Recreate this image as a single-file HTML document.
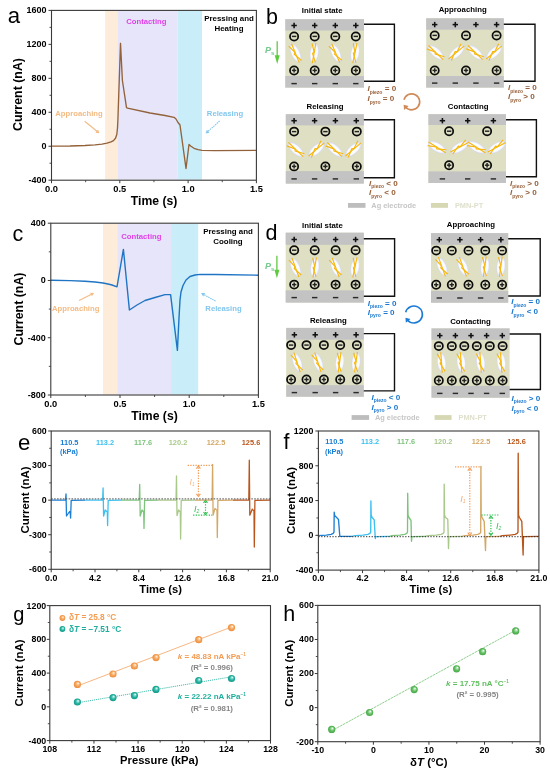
<!DOCTYPE html><html><head><meta charset="utf-8"><style>html,body{margin:0;padding:0;background:#fff;}svg{display:block;will-change:transform;}</style></head><body>
<svg width="550" height="772" viewBox="0 0 550 772" font-family='"Liberation Sans", sans-serif'>
<rect x="0" y="0" width="550" height="772" fill="#ffffff" />
<rect x="105.2" y="11" width="12.2" height="168.6" fill="#fdecd9" />
<rect x="117.4" y="11" width="60" height="168.6" fill="#e7e5f9" />
<rect x="177.4" y="11" width="24.6" height="168.6" fill="#c9edf9" />
<polyline points="51.5,146.2 70,146 85,145.5 95,144.9 102,144.1 107,143.1 111,141.9 113.5,140.6 115.5,138.2 116.8,134.5 117.5,128 117.9,119.8 120.5,43.3 122.4,80.5 126.5,107.7 127.5,108.2 150,113 165,115.5 174,117.3 176,119 178,122.5 180,125 186,168.5 189,144.5 191,146.2 194,148.3 198,149.6 202,150.3 215,150.7 256.4,150.3" fill="none" stroke="#93623a" stroke-width="1.35" stroke-linejoin="round" />
<rect x="51.5" y="10.4" width="204.9" height="169.8" fill="none" stroke="#3a3a3a" stroke-width="1.1"/>
<line x1="48.5" y1="10.4" x2="51.5" y2="10.4" stroke="#3a3a3a" stroke-width="1" />
<text x="46.5" y="13.3" font-size="9" fill="#000" text-anchor="end" font-weight="bold" >1600</text>
<line x1="48.5" y1="44.36" x2="51.5" y2="44.36" stroke="#3a3a3a" stroke-width="1" />
<text x="46.5" y="47.26" font-size="9" fill="#000" text-anchor="end" font-weight="bold" >1200</text>
<line x1="48.5" y1="78.32" x2="51.5" y2="78.32" stroke="#3a3a3a" stroke-width="1" />
<text x="46.5" y="81.22" font-size="9" fill="#000" text-anchor="end" font-weight="bold" >800</text>
<line x1="48.5" y1="112.28" x2="51.5" y2="112.28" stroke="#3a3a3a" stroke-width="1" />
<text x="46.5" y="115.18" font-size="9" fill="#000" text-anchor="end" font-weight="bold" >400</text>
<line x1="48.5" y1="146.24" x2="51.5" y2="146.24" stroke="#3a3a3a" stroke-width="1" />
<text x="46.5" y="149.14" font-size="9" fill="#000" text-anchor="end" font-weight="bold" >0</text>
<line x1="48.5" y1="180.2" x2="51.5" y2="180.2" stroke="#3a3a3a" stroke-width="1" />
<text x="46.5" y="183.1" font-size="9" fill="#000" text-anchor="end" font-weight="bold" >-400</text>
<line x1="49.5" y1="27.38" x2="51.5" y2="27.38" stroke="#3a3a3a" stroke-width="0.9" />
<line x1="49.5" y1="61.34" x2="51.5" y2="61.34" stroke="#3a3a3a" stroke-width="0.9" />
<line x1="49.5" y1="95.3" x2="51.5" y2="95.3" stroke="#3a3a3a" stroke-width="0.9" />
<line x1="49.5" y1="129.26" x2="51.5" y2="129.26" stroke="#3a3a3a" stroke-width="0.9" />
<line x1="49.5" y1="163.22" x2="51.5" y2="163.22" stroke="#3a3a3a" stroke-width="0.9" />
<line x1="51.5" y1="180.2" x2="51.5" y2="183.2" stroke="#3a3a3a" stroke-width="1" />
<text x="51.5" y="192" font-size="9.3" fill="#000" text-anchor="middle" font-weight="bold" >0.0</text>
<line x1="119.8" y1="180.2" x2="119.8" y2="183.2" stroke="#3a3a3a" stroke-width="1" />
<text x="119.8" y="192" font-size="9.3" fill="#000" text-anchor="middle" font-weight="bold" >0.5</text>
<line x1="188.1" y1="180.2" x2="188.1" y2="183.2" stroke="#3a3a3a" stroke-width="1" />
<text x="188.1" y="192" font-size="9.3" fill="#000" text-anchor="middle" font-weight="bold" >1.0</text>
<line x1="256.4" y1="180.2" x2="256.4" y2="183.2" stroke="#3a3a3a" stroke-width="1" />
<text x="256.4" y="192" font-size="9.3" fill="#000" text-anchor="middle" font-weight="bold" >1.5</text>
<line x1="85.65" y1="180.2" x2="85.65" y2="182.2" stroke="#3a3a3a" stroke-width="0.9" />
<line x1="153.95" y1="180.2" x2="153.95" y2="182.2" stroke="#3a3a3a" stroke-width="0.9" />
<line x1="222.25" y1="180.2" x2="222.25" y2="182.2" stroke="#3a3a3a" stroke-width="0.9" />
<text x="0" y="0" font-size="12.4" font-weight="bold" text-anchor="middle" transform="translate(21.6,94.5) rotate(-90)">Current (nA)</text>
<text x="154.1" y="204.5" font-size="12.2" fill="#000" text-anchor="middle" font-weight="bold" >Time (s)</text>
<text x="7.8" y="22.9" font-size="22.2" fill="#000" text-anchor="start" font-weight="normal" >a</text>
<text x="146.4" y="24" font-size="7.7" fill="#e040e8" text-anchor="middle" font-weight="bold" >Contacting</text>
<text x="229" y="20.7" font-size="7.9" fill="#000" text-anchor="middle" font-weight="bold" >Pressing and</text>
<text x="229" y="30.5" font-size="7.9" fill="#000" text-anchor="middle" font-weight="bold" >Heating</text>
<text x="79" y="116.1" font-size="7.7" fill="#f4bb84" text-anchor="middle" font-weight="bold" >Approaching</text>
<text x="225" y="116" font-size="7.7" fill="#84c7ec" text-anchor="middle" font-weight="bold" >Releasing</text>
<line x1="84.7" y1="121.3" x2="97.54" y2="131.78" stroke="#f4bb84" stroke-width="1.15" />
<polygon points="99.4,133.3 95.45,132.66 97.98,129.56" fill="#f4bb84"/>
<line x1="219.6" y1="121" x2="207.38" y2="131.99" stroke="#84c7ec" stroke-width="1.15" stroke-dasharray="1.5,0.8"/>
<polygon points="205.6,133.6 206.84,129.8 209.51,132.77" fill="#84c7ec"/>
<rect x="103" y="223.8" width="14.2" height="170.6" fill="#fdecd9" />
<rect x="117.2" y="223.8" width="53.8" height="170.6" fill="#e7e5f9" />
<rect x="171" y="223.8" width="27.2" height="170.6" fill="#c9edf9" />
<polyline points="50.8,280.3 70,280.6 85,281.3 95,282 103,283 108,284 112,285 117,286.8 123.4,249.4 129.4,310 137,305 145,300.5 155,297.5 165,294.6 170.6,294.6 177.4,350.4 179,318 180,300 181,292 183,285.5 186,280 190,276.5 195,275 200,274.4 215,274.5 258.4,275.2" fill="none" stroke="#1f74c4" stroke-width="1.4" stroke-linejoin="round" />
<rect x="50.8" y="223.2" width="207.6" height="171.8" fill="none" stroke="#3a3a3a" stroke-width="1.1"/>
<line x1="47.8" y1="223.2" x2="50.8" y2="223.2" stroke="#3a3a3a" stroke-width="1" />
<text x="45.8" y="226.1" font-size="9" fill="#000" text-anchor="end" font-weight="bold" >400</text>
<line x1="47.8" y1="280.47" x2="50.8" y2="280.47" stroke="#3a3a3a" stroke-width="1" />
<text x="45.8" y="283.37" font-size="9" fill="#000" text-anchor="end" font-weight="bold" >0</text>
<line x1="47.8" y1="337.73" x2="50.8" y2="337.73" stroke="#3a3a3a" stroke-width="1" />
<text x="45.8" y="340.63" font-size="9" fill="#000" text-anchor="end" font-weight="bold" >-400</text>
<line x1="47.8" y1="395" x2="50.8" y2="395" stroke="#3a3a3a" stroke-width="1" />
<text x="45.8" y="397.9" font-size="9" fill="#000" text-anchor="end" font-weight="bold" >-800</text>
<line x1="48.8" y1="251.83" x2="50.8" y2="251.83" stroke="#3a3a3a" stroke-width="0.9" />
<line x1="48.8" y1="309.1" x2="50.8" y2="309.1" stroke="#3a3a3a" stroke-width="0.9" />
<line x1="48.8" y1="366.37" x2="50.8" y2="366.37" stroke="#3a3a3a" stroke-width="0.9" />
<line x1="50.8" y1="395" x2="50.8" y2="398" stroke="#3a3a3a" stroke-width="1" />
<text x="50.8" y="406.8" font-size="9.3" fill="#000" text-anchor="middle" font-weight="bold" >0.0</text>
<line x1="120" y1="395" x2="120" y2="398" stroke="#3a3a3a" stroke-width="1" />
<text x="120" y="406.8" font-size="9.3" fill="#000" text-anchor="middle" font-weight="bold" >0.5</text>
<line x1="189.2" y1="395" x2="189.2" y2="398" stroke="#3a3a3a" stroke-width="1" />
<text x="189.2" y="406.8" font-size="9.3" fill="#000" text-anchor="middle" font-weight="bold" >1.0</text>
<line x1="258.4" y1="395" x2="258.4" y2="398" stroke="#3a3a3a" stroke-width="1" />
<text x="258.4" y="406.8" font-size="9.3" fill="#000" text-anchor="middle" font-weight="bold" >1.5</text>
<line x1="85.4" y1="395" x2="85.4" y2="397" stroke="#3a3a3a" stroke-width="0.9" />
<line x1="154.6" y1="395" x2="154.6" y2="397" stroke="#3a3a3a" stroke-width="0.9" />
<line x1="223.8" y1="395" x2="223.8" y2="397" stroke="#3a3a3a" stroke-width="0.9" />
<text x="0" y="0" font-size="12.4" font-weight="bold" text-anchor="middle" transform="translate(23,309) rotate(-90)">Current (nA)</text>
<text x="154.5" y="419.5" font-size="12.2" fill="#000" text-anchor="middle" font-weight="bold" >Time (s)</text>
<text x="12.5" y="240.6" font-size="21.5" fill="#000" text-anchor="start" font-weight="normal" >c</text>
<text x="141.4" y="238.6" font-size="7.7" fill="#e040e8" text-anchor="middle" font-weight="bold" >Contacting</text>
<text x="228" y="234.4" font-size="7.9" fill="#000" text-anchor="middle" font-weight="bold" >Pressing and</text>
<text x="228" y="244.4" font-size="7.9" fill="#000" text-anchor="middle" font-weight="bold" >Cooling</text>
<text x="75.7" y="310.7" font-size="7.7" fill="#f4bb84" text-anchor="middle" font-weight="bold" >Approaching</text>
<text x="223.5" y="311.3" font-size="7.7" fill="#84c7ec" text-anchor="middle" font-weight="bold" >Releasing</text>
<line x1="79.1" y1="300.5" x2="91.95" y2="294.07" stroke="#f4bb84" stroke-width="1.15" />
<polygon points="94.1,293 91.9,296.34 90.11,292.76" fill="#f4bb84"/>
<line x1="215.6" y1="301.1" x2="203.2" y2="294.26" stroke="#84c7ec" stroke-width="1.15" stroke-dasharray="1.5,0.8"/>
<polygon points="201.1,293.1 205.1,293.02 203.17,296.52" fill="#84c7ec"/>
<defs><radialGradient id="eg" cx="50%" cy="50%" r="50%"><stop offset="0" stop-color="#ffffff"/><stop offset="0.7" stop-color="#fafbff"/><stop offset="1" stop-color="#d2d6f2"/></radialGradient></defs>
<text x="266" y="24" font-size="21.5" fill="#000" text-anchor="start" font-weight="normal" >b</text>
<rect x="285.3" y="19.2" width="78.7" height="68.4" fill="#dedfc3" />
<rect x="285.3" y="19.2" width="78.7" height="11.3" fill="#c3c3c3" />
<rect x="285.3" y="76" width="78.7" height="11.6" fill="#c3c3c3" />
<line x1="291.4" y1="25.5" x2="296.8" y2="25.5" stroke="#111" stroke-width="1.55" />
<line x1="294.1" y1="22.8" x2="294.1" y2="28.2" stroke="#111" stroke-width="1.55" />
<line x1="291.4" y1="83.6" x2="296.8" y2="83.6" stroke="#2a2a2a" stroke-width="1.45" />
<line x1="312" y1="25.5" x2="317.4" y2="25.5" stroke="#111" stroke-width="1.55" />
<line x1="314.7" y1="22.8" x2="314.7" y2="28.2" stroke="#111" stroke-width="1.55" />
<line x1="312" y1="83.6" x2="317.4" y2="83.6" stroke="#2a2a2a" stroke-width="1.45" />
<line x1="332.6" y1="25.5" x2="338" y2="25.5" stroke="#111" stroke-width="1.55" />
<line x1="335.3" y1="22.8" x2="335.3" y2="28.2" stroke="#111" stroke-width="1.55" />
<line x1="332.6" y1="83.6" x2="338" y2="83.6" stroke="#2a2a2a" stroke-width="1.45" />
<line x1="353.1" y1="25.5" x2="358.5" y2="25.5" stroke="#111" stroke-width="1.55" />
<line x1="355.8" y1="22.8" x2="355.8" y2="28.2" stroke="#111" stroke-width="1.55" />
<line x1="353.1" y1="83.6" x2="358.5" y2="83.6" stroke="#2a2a2a" stroke-width="1.45" />
<circle cx="294.1" cy="36.4" r="4.1" fill="none" stroke="#0d0d0d" stroke-width="1.75"/>
<line x1="291.9" y1="36.4" x2="296.3" y2="36.4" stroke="#222" stroke-width="1.45" />
<circle cx="294.1" cy="70.4" r="4.1" fill="none" stroke="#0d0d0d" stroke-width="1.75"/>
<line x1="291.9" y1="70.4" x2="296.3" y2="70.4" stroke="#222" stroke-width="1.45" />
<line x1="294.1" y1="68.2" x2="294.1" y2="72.6" stroke="#222" stroke-width="1.45" />
<circle cx="314.7" cy="36.4" r="4.1" fill="none" stroke="#0d0d0d" stroke-width="1.75"/>
<line x1="312.5" y1="36.4" x2="316.9" y2="36.4" stroke="#222" stroke-width="1.45" />
<circle cx="314.7" cy="70.4" r="4.1" fill="none" stroke="#0d0d0d" stroke-width="1.75"/>
<line x1="312.5" y1="70.4" x2="316.9" y2="70.4" stroke="#222" stroke-width="1.45" />
<line x1="314.7" y1="68.2" x2="314.7" y2="72.6" stroke="#222" stroke-width="1.45" />
<circle cx="335.3" cy="36.4" r="4.1" fill="none" stroke="#0d0d0d" stroke-width="1.75"/>
<line x1="333.1" y1="36.4" x2="337.5" y2="36.4" stroke="#222" stroke-width="1.45" />
<circle cx="335.3" cy="70.4" r="4.1" fill="none" stroke="#0d0d0d" stroke-width="1.75"/>
<line x1="333.1" y1="70.4" x2="337.5" y2="70.4" stroke="#222" stroke-width="1.45" />
<line x1="335.3" y1="68.2" x2="335.3" y2="72.6" stroke="#222" stroke-width="1.45" />
<circle cx="355.8" cy="36.4" r="4.1" fill="none" stroke="#0d0d0d" stroke-width="1.75"/>
<line x1="353.6" y1="36.4" x2="358" y2="36.4" stroke="#222" stroke-width="1.45" />
<circle cx="355.8" cy="70.4" r="4.1" fill="none" stroke="#0d0d0d" stroke-width="1.75"/>
<line x1="353.6" y1="70.4" x2="358" y2="70.4" stroke="#222" stroke-width="1.45" />
<line x1="355.8" y1="68.2" x2="355.8" y2="72.6" stroke="#222" stroke-width="1.45" />
<g transform="translate(295.5,53.1) rotate(-24)"><ellipse cx="0" cy="0" rx="4.5" ry="10.2" fill="url(#eg)"/><polyline points="-3.38,-9.18 -0.23,-1.02 -1.57,0.51 2.48,9.18" fill="none" stroke="#f6b70e" stroke-width="1.15"/><line x1="0.23" y1="-10.2" x2="-0.45" y2="10.2" stroke="#f6b70e" stroke-width="1.15"/></g>
<g transform="translate(314.2,53.1) rotate(8)"><ellipse cx="0" cy="0" rx="4.5" ry="10.2" fill="url(#eg)"/><polyline points="-3.38,-9.18 -0.23,-1.02 -1.57,0.51 2.48,9.18" fill="none" stroke="#f6b70e" stroke-width="1.15"/><line x1="0.23" y1="-10.2" x2="-0.45" y2="10.2" stroke="#f6b70e" stroke-width="1.15"/></g>
<g transform="translate(335.8,53.1) rotate(-25)"><ellipse cx="0" cy="0" rx="4.5" ry="10.2" fill="url(#eg)"/><polyline points="-3.38,-9.18 -0.23,-1.02 -1.57,0.51 2.48,9.18" fill="none" stroke="#f6b70e" stroke-width="1.15"/><line x1="0.23" y1="-10.2" x2="-0.45" y2="10.2" stroke="#f6b70e" stroke-width="1.15"/></g>
<g transform="translate(355,53.1) rotate(10)"><ellipse cx="0" cy="0" rx="4.5" ry="10.2" fill="url(#eg)"/><polyline points="-3.38,-9.18 -0.23,-1.02 -1.57,0.51 2.48,9.18" fill="none" stroke="#f6b70e" stroke-width="1.15"/><line x1="0.23" y1="-10.2" x2="-0.45" y2="10.2" stroke="#f6b70e" stroke-width="1.15"/></g>
<polyline points="364,24.2 394.4,24.2 394.4,81.3 364,81.3" fill="none" stroke="#111" stroke-width="1.4"/>
<text x="322.2" y="13" font-size="7.8" fill="#000" text-anchor="middle" font-weight="bold" >Initial state</text>
<text x="367.4" y="91.3" font-size="8.1" font-weight="bold" fill="#98603a"><tspan font-style="italic">I</tspan><tspan font-size="5.0" dy="2.3">piezo</tspan><tspan dy="-2.3"> = 0</tspan></text>
<text x="367.4" y="101.3" font-size="8.1" font-weight="bold" fill="#98603a"><tspan font-style="italic">I</tspan><tspan font-size="5.0" dy="2.3">pyro</tspan><tspan dy="-2.3"> = 0</tspan></text>
<rect x="426.2" y="18.3" width="77.6" height="69.3" fill="#dedfc3" />
<rect x="426.2" y="18.3" width="77.6" height="11.4" fill="#c3c3c3" />
<rect x="426.2" y="76" width="77.6" height="11.6" fill="#c3c3c3" />
<line x1="432" y1="24.6" x2="437.4" y2="24.6" stroke="#111" stroke-width="1.55" />
<line x1="434.7" y1="21.9" x2="434.7" y2="27.3" stroke="#111" stroke-width="1.55" />
<line x1="432" y1="83.1" x2="437.4" y2="83.1" stroke="#2a2a2a" stroke-width="1.45" />
<line x1="452.6" y1="24.6" x2="458" y2="24.6" stroke="#111" stroke-width="1.55" />
<line x1="455.3" y1="21.9" x2="455.3" y2="27.3" stroke="#111" stroke-width="1.55" />
<line x1="452.6" y1="83.1" x2="458" y2="83.1" stroke="#2a2a2a" stroke-width="1.45" />
<line x1="473.2" y1="24.6" x2="478.6" y2="24.6" stroke="#111" stroke-width="1.55" />
<line x1="475.9" y1="21.9" x2="475.9" y2="27.3" stroke="#111" stroke-width="1.55" />
<line x1="473.2" y1="83.1" x2="478.6" y2="83.1" stroke="#2a2a2a" stroke-width="1.45" />
<line x1="493.9" y1="24.6" x2="499.3" y2="24.6" stroke="#111" stroke-width="1.55" />
<line x1="496.6" y1="21.9" x2="496.6" y2="27.3" stroke="#111" stroke-width="1.55" />
<line x1="493.9" y1="83.1" x2="499.3" y2="83.1" stroke="#2a2a2a" stroke-width="1.45" />
<circle cx="434.7" cy="35.4" r="4.1" fill="none" stroke="#0d0d0d" stroke-width="1.75"/>
<line x1="432.5" y1="35.4" x2="436.9" y2="35.4" stroke="#222" stroke-width="1.45" />
<circle cx="434.7" cy="70.4" r="4.1" fill="none" stroke="#0d0d0d" stroke-width="1.75"/>
<line x1="432.5" y1="70.4" x2="436.9" y2="70.4" stroke="#222" stroke-width="1.45" />
<line x1="434.7" y1="68.2" x2="434.7" y2="72.6" stroke="#222" stroke-width="1.45" />
<circle cx="466" cy="35.4" r="4.1" fill="none" stroke="#0d0d0d" stroke-width="1.75"/>
<line x1="463.8" y1="35.4" x2="468.2" y2="35.4" stroke="#222" stroke-width="1.45" />
<circle cx="466" cy="70.4" r="4.1" fill="none" stroke="#0d0d0d" stroke-width="1.75"/>
<line x1="463.8" y1="70.4" x2="468.2" y2="70.4" stroke="#222" stroke-width="1.45" />
<line x1="466" y1="68.2" x2="466" y2="72.6" stroke="#222" stroke-width="1.45" />
<circle cx="496.6" cy="35.4" r="4.1" fill="none" stroke="#0d0d0d" stroke-width="1.75"/>
<line x1="494.4" y1="35.4" x2="498.8" y2="35.4" stroke="#222" stroke-width="1.45" />
<circle cx="496.6" cy="70.4" r="4.1" fill="none" stroke="#0d0d0d" stroke-width="1.75"/>
<line x1="494.4" y1="70.4" x2="498.8" y2="70.4" stroke="#222" stroke-width="1.45" />
<line x1="496.6" y1="68.2" x2="496.6" y2="72.6" stroke="#222" stroke-width="1.45" />
<g transform="translate(435.9,52.5) rotate(-48)"><ellipse cx="0" cy="0" rx="4.5" ry="10.2" fill="url(#eg)"/><polyline points="-3.38,-9.18 -0.23,-1.02 -1.57,0.51 2.48,9.18" fill="none" stroke="#f6b70e" stroke-width="1.15"/><line x1="0.23" y1="-10.2" x2="-0.45" y2="10.2" stroke="#f6b70e" stroke-width="1.15"/></g>
<g transform="translate(456.5,52.5) rotate(48)"><ellipse cx="0" cy="0" rx="4.5" ry="10.2" fill="url(#eg)"/><polyline points="-3.38,-9.18 -0.23,-1.02 -1.57,0.51 2.48,9.18" fill="none" stroke="#f6b70e" stroke-width="1.15"/><line x1="0.23" y1="-10.2" x2="-0.45" y2="10.2" stroke="#f6b70e" stroke-width="1.15"/></g>
<g transform="translate(475.4,52.5) rotate(-48)"><ellipse cx="0" cy="0" rx="4.5" ry="10.2" fill="url(#eg)"/><polyline points="-3.38,-9.18 -0.23,-1.02 -1.57,0.51 2.48,9.18" fill="none" stroke="#f6b70e" stroke-width="1.15"/><line x1="0.23" y1="-10.2" x2="-0.45" y2="10.2" stroke="#f6b70e" stroke-width="1.15"/></g>
<g transform="translate(494.1,52.5) rotate(48)"><ellipse cx="0" cy="0" rx="4.5" ry="10.2" fill="url(#eg)"/><polyline points="-3.38,-9.18 -0.23,-1.02 -1.57,0.51 2.48,9.18" fill="none" stroke="#f6b70e" stroke-width="1.15"/><line x1="0.23" y1="-10.2" x2="-0.45" y2="10.2" stroke="#f6b70e" stroke-width="1.15"/></g>
<polyline points="503.8,24.2 535,24.2 535,81.3 503.8,81.3" fill="none" stroke="#111" stroke-width="1.4"/>
<text x="462.7" y="12" font-size="7.8" fill="#000" text-anchor="middle" font-weight="bold" >Approaching</text>
<text x="508" y="90.3" font-size="8.1" font-weight="bold" fill="#98603a"><tspan font-style="italic">I</tspan><tspan font-size="5.0" dy="2.3">piezo</tspan><tspan dy="-2.3"> = 0</tspan></text>
<text x="508" y="99.2" font-size="8.1" font-weight="bold" fill="#98603a"><tspan font-style="italic">I</tspan><tspan font-size="5.0" dy="2.3">pyro</tspan><tspan dy="-2.3"> &gt; 0</tspan></text>
<rect x="285.8" y="114.2" width="78" height="69.4" fill="#dedfc3" />
<rect x="285.8" y="114.2" width="78" height="11.2" fill="#c3c3c3" />
<rect x="285.8" y="171.1" width="78" height="12.5" fill="#c3c3c3" />
<line x1="291.4" y1="120.7" x2="296.8" y2="120.7" stroke="#111" stroke-width="1.55" />
<line x1="294.1" y1="118" x2="294.1" y2="123.4" stroke="#111" stroke-width="1.55" />
<line x1="291.4" y1="178.9" x2="296.8" y2="178.9" stroke="#2a2a2a" stroke-width="1.45" />
<line x1="311.9" y1="120.7" x2="317.3" y2="120.7" stroke="#111" stroke-width="1.55" />
<line x1="314.6" y1="118" x2="314.6" y2="123.4" stroke="#111" stroke-width="1.55" />
<line x1="311.9" y1="178.9" x2="317.3" y2="178.9" stroke="#2a2a2a" stroke-width="1.45" />
<line x1="332.7" y1="120.7" x2="338.1" y2="120.7" stroke="#111" stroke-width="1.55" />
<line x1="335.4" y1="118" x2="335.4" y2="123.4" stroke="#111" stroke-width="1.55" />
<line x1="332.7" y1="178.9" x2="338.1" y2="178.9" stroke="#2a2a2a" stroke-width="1.45" />
<line x1="353.6" y1="120.7" x2="359" y2="120.7" stroke="#111" stroke-width="1.55" />
<line x1="356.3" y1="118" x2="356.3" y2="123.4" stroke="#111" stroke-width="1.55" />
<line x1="353.6" y1="178.9" x2="359" y2="178.9" stroke="#2a2a2a" stroke-width="1.45" />
<circle cx="294.1" cy="131.6" r="4.1" fill="none" stroke="#0d0d0d" stroke-width="1.75"/>
<line x1="291.9" y1="131.6" x2="296.3" y2="131.6" stroke="#222" stroke-width="1.45" />
<circle cx="294.1" cy="166.4" r="4.1" fill="none" stroke="#0d0d0d" stroke-width="1.75"/>
<line x1="291.9" y1="166.4" x2="296.3" y2="166.4" stroke="#222" stroke-width="1.45" />
<line x1="294.1" y1="164.2" x2="294.1" y2="168.6" stroke="#222" stroke-width="1.45" />
<circle cx="325.4" cy="131.6" r="4.1" fill="none" stroke="#0d0d0d" stroke-width="1.75"/>
<line x1="323.2" y1="131.6" x2="327.6" y2="131.6" stroke="#222" stroke-width="1.45" />
<circle cx="325.4" cy="166.4" r="4.1" fill="none" stroke="#0d0d0d" stroke-width="1.75"/>
<line x1="323.2" y1="166.4" x2="327.6" y2="166.4" stroke="#222" stroke-width="1.45" />
<line x1="325.4" y1="164.2" x2="325.4" y2="168.6" stroke="#222" stroke-width="1.45" />
<circle cx="356.8" cy="131.6" r="4.1" fill="none" stroke="#0d0d0d" stroke-width="1.75"/>
<line x1="354.6" y1="131.6" x2="359" y2="131.6" stroke="#222" stroke-width="1.45" />
<circle cx="356.8" cy="166.4" r="4.1" fill="none" stroke="#0d0d0d" stroke-width="1.75"/>
<line x1="354.6" y1="166.4" x2="359" y2="166.4" stroke="#222" stroke-width="1.45" />
<line x1="356.8" y1="164.2" x2="356.8" y2="168.6" stroke="#222" stroke-width="1.45" />
<g transform="translate(295.9,149.5) rotate(-48)"><ellipse cx="0" cy="0" rx="4.5" ry="10.2" fill="url(#eg)"/><polyline points="-3.38,-9.18 -0.23,-1.02 -1.57,0.51 2.48,9.18" fill="none" stroke="#f6b70e" stroke-width="1.15"/><line x1="0.23" y1="-10.2" x2="-0.45" y2="10.2" stroke="#f6b70e" stroke-width="1.15"/></g>
<g transform="translate(316.5,149.5) rotate(48)"><ellipse cx="0" cy="0" rx="4.5" ry="10.2" fill="url(#eg)"/><polyline points="-3.38,-9.18 -0.23,-1.02 -1.57,0.51 2.48,9.18" fill="none" stroke="#f6b70e" stroke-width="1.15"/><line x1="0.23" y1="-10.2" x2="-0.45" y2="10.2" stroke="#f6b70e" stroke-width="1.15"/></g>
<g transform="translate(334.7,149.5) rotate(-48)"><ellipse cx="0" cy="0" rx="4.5" ry="10.2" fill="url(#eg)"/><polyline points="-3.38,-9.18 -0.23,-1.02 -1.57,0.51 2.48,9.18" fill="none" stroke="#f6b70e" stroke-width="1.15"/><line x1="0.23" y1="-10.2" x2="-0.45" y2="10.2" stroke="#f6b70e" stroke-width="1.15"/></g>
<g transform="translate(353.3,149.5) rotate(48)"><ellipse cx="0" cy="0" rx="4.5" ry="10.2" fill="url(#eg)"/><polyline points="-3.38,-9.18 -0.23,-1.02 -1.57,0.51 2.48,9.18" fill="none" stroke="#f6b70e" stroke-width="1.15"/><line x1="0.23" y1="-10.2" x2="-0.45" y2="10.2" stroke="#f6b70e" stroke-width="1.15"/></g>
<polyline points="363.8,119.7 394.4,119.7 394.4,177.8 363.8,177.8" fill="none" stroke="#111" stroke-width="1.4"/>
<text x="325" y="108.6" font-size="7.8" fill="#000" text-anchor="middle" font-weight="bold" >Releasing</text>
<text x="369" y="185.5" font-size="8.1" font-weight="bold" fill="#98603a"><tspan font-style="italic">I</tspan><tspan font-size="5.0" dy="2.3">piezo</tspan><tspan dy="-2.3"> &lt; 0</tspan></text>
<text x="369" y="195.3" font-size="8.1" font-weight="bold" fill="#98603a"><tspan font-style="italic">I</tspan><tspan font-size="5.0" dy="2.3">pyro</tspan><tspan dy="-2.3"> &lt; 0</tspan></text>
<rect x="428.4" y="114.2" width="77.6" height="68.8" fill="#dedfc3" />
<rect x="428.4" y="114.2" width="77.6" height="10.8" fill="#c3c3c3" />
<rect x="428.4" y="171.4" width="77.6" height="11.6" fill="#c3c3c3" />
<line x1="439.7" y1="120.7" x2="445.1" y2="120.7" stroke="#111" stroke-width="1.55" />
<line x1="442.4" y1="118" x2="442.4" y2="123.4" stroke="#111" stroke-width="1.55" />
<line x1="439.7" y1="178.9" x2="445.1" y2="178.9" stroke="#2a2a2a" stroke-width="1.45" />
<line x1="465" y1="120.7" x2="470.4" y2="120.7" stroke="#111" stroke-width="1.55" />
<line x1="467.7" y1="118" x2="467.7" y2="123.4" stroke="#111" stroke-width="1.55" />
<line x1="465" y1="178.9" x2="470.4" y2="178.9" stroke="#2a2a2a" stroke-width="1.45" />
<line x1="490.7" y1="120.7" x2="496.1" y2="120.7" stroke="#111" stroke-width="1.55" />
<line x1="493.4" y1="118" x2="493.4" y2="123.4" stroke="#111" stroke-width="1.55" />
<line x1="490.7" y1="178.9" x2="496.1" y2="178.9" stroke="#2a2a2a" stroke-width="1.45" />
<circle cx="449.1" cy="131.2" r="4.1" fill="none" stroke="#0d0d0d" stroke-width="1.75"/>
<line x1="446.9" y1="131.2" x2="451.3" y2="131.2" stroke="#222" stroke-width="1.45" />
<circle cx="449.1" cy="165.2" r="4.1" fill="none" stroke="#0d0d0d" stroke-width="1.75"/>
<line x1="446.9" y1="165.2" x2="451.3" y2="165.2" stroke="#222" stroke-width="1.45" />
<line x1="449.1" y1="163" x2="449.1" y2="167.4" stroke="#222" stroke-width="1.45" />
<circle cx="487.1" cy="131.2" r="4.1" fill="none" stroke="#0d0d0d" stroke-width="1.75"/>
<line x1="484.9" y1="131.2" x2="489.3" y2="131.2" stroke="#222" stroke-width="1.45" />
<circle cx="487.1" cy="165.2" r="4.1" fill="none" stroke="#0d0d0d" stroke-width="1.75"/>
<line x1="484.9" y1="165.2" x2="489.3" y2="165.2" stroke="#222" stroke-width="1.45" />
<line x1="487.1" y1="163" x2="487.1" y2="167.4" stroke="#222" stroke-width="1.45" />
<g transform="translate(437.2,147.3) rotate(-60)"><ellipse cx="0" cy="0" rx="4.5" ry="10.2" fill="url(#eg)"/><polyline points="-3.38,-9.18 -0.23,-1.02 -1.57,0.51 2.48,9.18" fill="none" stroke="#f6b70e" stroke-width="1.15"/><line x1="0.23" y1="-10.2" x2="-0.45" y2="10.2" stroke="#f6b70e" stroke-width="1.15"/></g>
<g transform="translate(459.5,147.3) rotate(60)"><ellipse cx="0" cy="0" rx="4.5" ry="10.2" fill="url(#eg)"/><polyline points="-3.38,-9.18 -0.23,-1.02 -1.57,0.51 2.48,9.18" fill="none" stroke="#f6b70e" stroke-width="1.15"/><line x1="0.23" y1="-10.2" x2="-0.45" y2="10.2" stroke="#f6b70e" stroke-width="1.15"/></g>
<g transform="translate(476.7,147.3) rotate(-60)"><ellipse cx="0" cy="0" rx="4.5" ry="10.2" fill="url(#eg)"/><polyline points="-3.38,-9.18 -0.23,-1.02 -1.57,0.51 2.48,9.18" fill="none" stroke="#f6b70e" stroke-width="1.15"/><line x1="0.23" y1="-10.2" x2="-0.45" y2="10.2" stroke="#f6b70e" stroke-width="1.15"/></g>
<g transform="translate(496.8,147.3) rotate(60)"><ellipse cx="0" cy="0" rx="4.5" ry="10.2" fill="url(#eg)"/><polyline points="-3.38,-9.18 -0.23,-1.02 -1.57,0.51 2.48,9.18" fill="none" stroke="#f6b70e" stroke-width="1.15"/><line x1="0.23" y1="-10.2" x2="-0.45" y2="10.2" stroke="#f6b70e" stroke-width="1.15"/></g>
<polyline points="506,119.7 536.4,119.7 536.4,176.8 506,176.8" fill="none" stroke="#111" stroke-width="1.4"/>
<text x="468.2" y="108.6" font-size="7.8" fill="#000" text-anchor="middle" font-weight="bold" >Contacting</text>
<text x="510" y="185.5" font-size="8.1" font-weight="bold" fill="#98603a"><tspan font-style="italic">I</tspan><tspan font-size="5.0" dy="2.3">piezo</tspan><tspan dy="-2.3"> &gt; 0</tspan></text>
<text x="510" y="195.3" font-size="8.1" font-weight="bold" fill="#98603a"><tspan font-style="italic">I</tspan><tspan font-size="5.0" dy="2.3">pyro</tspan><tspan dy="-2.3"> &gt; 0</tspan></text>
<path d="M403.97,99.83 A8,8 0 1 1 405.57,107.04" fill="none" stroke="#d08a58" stroke-width="1.6"/>
<polygon points="403.64,104.74 408.64,106.03 404.04,109.89" fill="#d08a58"/>
<line x1="277.2" y1="41.3" x2="277.2" y2="57.9" stroke="#5ecb3e" stroke-width="1.3" />
<polygon points="274.7,55.3 279.7,55.3 277.2,63.9" fill="#5ecb3e"/>
<text x="265.0" y="53" font-size="9" font-weight="bold" font-style="italic" fill="#72c98a">P<tspan font-size="6.2" dy="2.2" font-style="normal">s</tspan></text>
<rect x="348" y="203" width="17.5" height="4.8" fill="#bdbdbd" />
<text x="371.3" y="207.8" font-size="7.4" fill="#c6c6c6" text-anchor="start" font-weight="bold" >Ag electrode</text>
<rect x="431" y="203" width="17" height="4.8" fill="#d6d8b4" />
<text x="454.9" y="207.8" font-size="7.4" fill="#dfe0cc" text-anchor="start" font-weight="bold" >PMN-PT</text>
<text x="265.5" y="240.4" font-size="21.5" fill="#000" text-anchor="start" font-weight="normal" >d</text>
<rect x="285.7" y="232.7" width="78.1" height="69.9" fill="#dedfc3" />
<rect x="285.7" y="232.7" width="78.1" height="12.1" fill="#c3c3c3" />
<rect x="285.7" y="290.3" width="78.1" height="12.3" fill="#c3c3c3" />
<line x1="291.5" y1="239.5" x2="296.9" y2="239.5" stroke="#111" stroke-width="1.55" />
<line x1="294.2" y1="236.8" x2="294.2" y2="242.2" stroke="#111" stroke-width="1.55" />
<line x1="291.5" y1="297.6" x2="296.9" y2="297.6" stroke="#2a2a2a" stroke-width="1.45" />
<line x1="312" y1="239.5" x2="317.4" y2="239.5" stroke="#111" stroke-width="1.55" />
<line x1="314.7" y1="236.8" x2="314.7" y2="242.2" stroke="#111" stroke-width="1.55" />
<line x1="312" y1="297.6" x2="317.4" y2="297.6" stroke="#2a2a2a" stroke-width="1.45" />
<line x1="332.9" y1="239.5" x2="338.3" y2="239.5" stroke="#111" stroke-width="1.55" />
<line x1="335.6" y1="236.8" x2="335.6" y2="242.2" stroke="#111" stroke-width="1.55" />
<line x1="332.9" y1="297.6" x2="338.3" y2="297.6" stroke="#2a2a2a" stroke-width="1.45" />
<line x1="352.9" y1="239.5" x2="358.3" y2="239.5" stroke="#111" stroke-width="1.55" />
<line x1="355.6" y1="236.8" x2="355.6" y2="242.2" stroke="#111" stroke-width="1.55" />
<line x1="352.9" y1="297.6" x2="358.3" y2="297.6" stroke="#2a2a2a" stroke-width="1.45" />
<circle cx="294.2" cy="250.2" r="4.1" fill="none" stroke="#0d0d0d" stroke-width="1.75"/>
<line x1="292" y1="250.2" x2="296.4" y2="250.2" stroke="#222" stroke-width="1.45" />
<circle cx="294.2" cy="284.6" r="4.1" fill="none" stroke="#0d0d0d" stroke-width="1.75"/>
<line x1="292" y1="284.6" x2="296.4" y2="284.6" stroke="#222" stroke-width="1.45" />
<line x1="294.2" y1="282.4" x2="294.2" y2="286.8" stroke="#222" stroke-width="1.45" />
<circle cx="314.7" cy="250.2" r="4.1" fill="none" stroke="#0d0d0d" stroke-width="1.75"/>
<line x1="312.5" y1="250.2" x2="316.9" y2="250.2" stroke="#222" stroke-width="1.45" />
<circle cx="314.7" cy="284.6" r="4.1" fill="none" stroke="#0d0d0d" stroke-width="1.75"/>
<line x1="312.5" y1="284.6" x2="316.9" y2="284.6" stroke="#222" stroke-width="1.45" />
<line x1="314.7" y1="282.4" x2="314.7" y2="286.8" stroke="#222" stroke-width="1.45" />
<circle cx="335.6" cy="250.2" r="4.1" fill="none" stroke="#0d0d0d" stroke-width="1.75"/>
<line x1="333.4" y1="250.2" x2="337.8" y2="250.2" stroke="#222" stroke-width="1.45" />
<circle cx="335.6" cy="284.6" r="4.1" fill="none" stroke="#0d0d0d" stroke-width="1.75"/>
<line x1="333.4" y1="284.6" x2="337.8" y2="284.6" stroke="#222" stroke-width="1.45" />
<line x1="335.6" y1="282.4" x2="335.6" y2="286.8" stroke="#222" stroke-width="1.45" />
<circle cx="355.6" cy="250.2" r="4.1" fill="none" stroke="#0d0d0d" stroke-width="1.75"/>
<line x1="353.4" y1="250.2" x2="357.8" y2="250.2" stroke="#222" stroke-width="1.45" />
<circle cx="355.6" cy="284.6" r="4.1" fill="none" stroke="#0d0d0d" stroke-width="1.75"/>
<line x1="353.4" y1="284.6" x2="357.8" y2="284.6" stroke="#222" stroke-width="1.45" />
<line x1="355.6" y1="282.4" x2="355.6" y2="286.8" stroke="#222" stroke-width="1.45" />
<g transform="translate(295.5,267.4) rotate(-22)"><ellipse cx="0" cy="0" rx="4.5" ry="10.2" fill="url(#eg)"/><polyline points="-3.38,-9.18 -0.23,-1.02 -1.57,0.51 2.48,9.18" fill="none" stroke="#f6b70e" stroke-width="1.15"/><line x1="0.23" y1="-10.2" x2="-0.45" y2="10.2" stroke="#f6b70e" stroke-width="1.15"/></g>
<g transform="translate(314.8,267.4) rotate(8)"><ellipse cx="0" cy="0" rx="4.5" ry="10.2" fill="url(#eg)"/><polyline points="-3.38,-9.18 -0.23,-1.02 -1.57,0.51 2.48,9.18" fill="none" stroke="#f6b70e" stroke-width="1.15"/><line x1="0.23" y1="-10.2" x2="-0.45" y2="10.2" stroke="#f6b70e" stroke-width="1.15"/></g>
<g transform="translate(335.8,267.4) rotate(-22)"><ellipse cx="0" cy="0" rx="4.5" ry="10.2" fill="url(#eg)"/><polyline points="-3.38,-9.18 -0.23,-1.02 -1.57,0.51 2.48,9.18" fill="none" stroke="#f6b70e" stroke-width="1.15"/><line x1="0.23" y1="-10.2" x2="-0.45" y2="10.2" stroke="#f6b70e" stroke-width="1.15"/></g>
<g transform="translate(355,267.4) rotate(10)"><ellipse cx="0" cy="0" rx="4.5" ry="10.2" fill="url(#eg)"/><polyline points="-3.38,-9.18 -0.23,-1.02 -1.57,0.51 2.48,9.18" fill="none" stroke="#f6b70e" stroke-width="1.15"/><line x1="0.23" y1="-10.2" x2="-0.45" y2="10.2" stroke="#f6b70e" stroke-width="1.15"/></g>
<polyline points="363.8,238.7 394.6,238.7 394.6,296.3 363.8,296.3" fill="none" stroke="#111" stroke-width="1.4"/>
<text x="322.4" y="227.8" font-size="7.8" fill="#000" text-anchor="middle" font-weight="bold" >Initial state</text>
<text x="367.8" y="305.5" font-size="8.1" font-weight="bold" fill="#1a76d0"><tspan font-style="italic">I</tspan><tspan font-size="5.0" dy="2.3">piezo</tspan><tspan dy="-2.3"> = 0</tspan></text>
<text x="367.8" y="315" font-size="8.1" font-weight="bold" fill="#1a76d0"><tspan font-style="italic">I</tspan><tspan font-size="5.0" dy="2.3">pyro</tspan><tspan dy="-2.3"> = 0</tspan></text>
<rect x="431" y="233.1" width="77.2" height="69.6" fill="#dedfc3" />
<rect x="431" y="233.1" width="77.2" height="11.7" fill="#c3c3c3" />
<rect x="431" y="290.9" width="77.2" height="11.8" fill="#c3c3c3" />
<line x1="436.6" y1="239.7" x2="442" y2="239.7" stroke="#111" stroke-width="1.55" />
<line x1="439.3" y1="237" x2="439.3" y2="242.4" stroke="#111" stroke-width="1.55" />
<line x1="436.6" y1="298" x2="442" y2="298" stroke="#2a2a2a" stroke-width="1.45" />
<line x1="457.2" y1="239.7" x2="462.6" y2="239.7" stroke="#111" stroke-width="1.55" />
<line x1="459.9" y1="237" x2="459.9" y2="242.4" stroke="#111" stroke-width="1.55" />
<line x1="457.2" y1="298" x2="462.6" y2="298" stroke="#2a2a2a" stroke-width="1.45" />
<line x1="477.9" y1="239.7" x2="483.3" y2="239.7" stroke="#111" stroke-width="1.55" />
<line x1="480.6" y1="237" x2="480.6" y2="242.4" stroke="#111" stroke-width="1.55" />
<line x1="477.9" y1="298" x2="483.3" y2="298" stroke="#2a2a2a" stroke-width="1.45" />
<line x1="498.2" y1="239.7" x2="503.6" y2="239.7" stroke="#111" stroke-width="1.55" />
<line x1="500.9" y1="237" x2="500.9" y2="242.4" stroke="#111" stroke-width="1.55" />
<line x1="498.2" y1="298" x2="503.6" y2="298" stroke="#2a2a2a" stroke-width="1.45" />
<circle cx="436.2" cy="250.6" r="4.1" fill="none" stroke="#0d0d0d" stroke-width="1.75"/>
<line x1="434" y1="250.6" x2="438.4" y2="250.6" stroke="#222" stroke-width="1.45" />
<circle cx="436.2" cy="284.7" r="4.1" fill="none" stroke="#0d0d0d" stroke-width="1.75"/>
<line x1="434" y1="284.7" x2="438.4" y2="284.7" stroke="#222" stroke-width="1.45" />
<line x1="436.2" y1="282.5" x2="436.2" y2="286.9" stroke="#222" stroke-width="1.45" />
<circle cx="451.8" cy="250.6" r="4.1" fill="none" stroke="#0d0d0d" stroke-width="1.75"/>
<line x1="449.6" y1="250.6" x2="454" y2="250.6" stroke="#222" stroke-width="1.45" />
<circle cx="451.8" cy="284.7" r="4.1" fill="none" stroke="#0d0d0d" stroke-width="1.75"/>
<line x1="449.6" y1="284.7" x2="454" y2="284.7" stroke="#222" stroke-width="1.45" />
<line x1="451.8" y1="282.5" x2="451.8" y2="286.9" stroke="#222" stroke-width="1.45" />
<circle cx="468.5" cy="250.6" r="4.1" fill="none" stroke="#0d0d0d" stroke-width="1.75"/>
<line x1="466.3" y1="250.6" x2="470.7" y2="250.6" stroke="#222" stroke-width="1.45" />
<circle cx="468.5" cy="284.7" r="4.1" fill="none" stroke="#0d0d0d" stroke-width="1.75"/>
<line x1="466.3" y1="284.7" x2="470.7" y2="284.7" stroke="#222" stroke-width="1.45" />
<line x1="468.5" y1="282.5" x2="468.5" y2="286.9" stroke="#222" stroke-width="1.45" />
<circle cx="485.3" cy="250.6" r="4.1" fill="none" stroke="#0d0d0d" stroke-width="1.75"/>
<line x1="483.1" y1="250.6" x2="487.5" y2="250.6" stroke="#222" stroke-width="1.45" />
<circle cx="485.3" cy="284.7" r="4.1" fill="none" stroke="#0d0d0d" stroke-width="1.75"/>
<line x1="483.1" y1="284.7" x2="487.5" y2="284.7" stroke="#222" stroke-width="1.45" />
<line x1="485.3" y1="282.5" x2="485.3" y2="286.9" stroke="#222" stroke-width="1.45" />
<circle cx="502.1" cy="250.6" r="4.1" fill="none" stroke="#0d0d0d" stroke-width="1.75"/>
<line x1="499.9" y1="250.6" x2="504.3" y2="250.6" stroke="#222" stroke-width="1.45" />
<circle cx="502.1" cy="284.7" r="4.1" fill="none" stroke="#0d0d0d" stroke-width="1.75"/>
<line x1="499.9" y1="284.7" x2="504.3" y2="284.7" stroke="#222" stroke-width="1.45" />
<line x1="502.1" y1="282.5" x2="502.1" y2="286.9" stroke="#222" stroke-width="1.45" />
<g transform="translate(442,266.7) rotate(-22)"><ellipse cx="0" cy="0" rx="4.5" ry="10.2" fill="url(#eg)"/><polyline points="-3.38,-9.18 -0.23,-1.02 -1.57,0.51 2.48,9.18" fill="none" stroke="#f6b70e" stroke-width="1.15"/><line x1="0.23" y1="-10.2" x2="-0.45" y2="10.2" stroke="#f6b70e" stroke-width="1.15"/></g>
<g transform="translate(463,266.7) rotate(-22)"><ellipse cx="0" cy="0" rx="4.5" ry="10.2" fill="url(#eg)"/><polyline points="-3.38,-9.18 -0.23,-1.02 -1.57,0.51 2.48,9.18" fill="none" stroke="#f6b70e" stroke-width="1.15"/><line x1="0.23" y1="-10.2" x2="-0.45" y2="10.2" stroke="#f6b70e" stroke-width="1.15"/></g>
<g transform="translate(484.9,266.7) rotate(6)"><ellipse cx="0" cy="0" rx="4.5" ry="10.2" fill="url(#eg)"/><polyline points="-3.38,-9.18 -0.23,-1.02 -1.57,0.51 2.48,9.18" fill="none" stroke="#f6b70e" stroke-width="1.15"/><line x1="0.23" y1="-10.2" x2="-0.45" y2="10.2" stroke="#f6b70e" stroke-width="1.15"/></g>
<g transform="translate(500.9,266.7) rotate(6)"><ellipse cx="0" cy="0" rx="4.5" ry="10.2" fill="url(#eg)"/><polyline points="-3.38,-9.18 -0.23,-1.02 -1.57,0.51 2.48,9.18" fill="none" stroke="#f6b70e" stroke-width="1.15"/><line x1="0.23" y1="-10.2" x2="-0.45" y2="10.2" stroke="#f6b70e" stroke-width="1.15"/></g>
<polyline points="508.2,238.7 540.2,238.7 540.2,296 508.2,296" fill="none" stroke="#111" stroke-width="1.4"/>
<text x="470.9" y="226.8" font-size="7.8" fill="#000" text-anchor="middle" font-weight="bold" >Approaching</text>
<text x="511.3" y="304.2" font-size="8.1" font-weight="bold" fill="#1a76d0"><tspan font-style="italic">I</tspan><tspan font-size="5.0" dy="2.3">piezo</tspan><tspan dy="-2.3"> = 0</tspan></text>
<text x="511.3" y="314.2" font-size="8.1" font-weight="bold" fill="#1a76d0"><tspan font-style="italic">I</tspan><tspan font-size="5.0" dy="2.3">pyro</tspan><tspan dy="-2.3"> &lt; 0</tspan></text>
<rect x="286.2" y="327.9" width="77.6" height="68.8" fill="#dedfc3" />
<rect x="286.2" y="327.9" width="77.6" height="11.8" fill="#c3c3c3" />
<rect x="286.2" y="385.2" width="77.6" height="11.5" fill="#c3c3c3" />
<line x1="291.7" y1="334.8" x2="297.1" y2="334.8" stroke="#111" stroke-width="1.55" />
<line x1="294.4" y1="332.1" x2="294.4" y2="337.5" stroke="#111" stroke-width="1.55" />
<line x1="291.7" y1="392.6" x2="297.1" y2="392.6" stroke="#2a2a2a" stroke-width="1.45" />
<line x1="312.5" y1="334.8" x2="317.9" y2="334.8" stroke="#111" stroke-width="1.55" />
<line x1="315.2" y1="332.1" x2="315.2" y2="337.5" stroke="#111" stroke-width="1.55" />
<line x1="312.5" y1="392.6" x2="317.9" y2="392.6" stroke="#2a2a2a" stroke-width="1.45" />
<line x1="332.9" y1="334.8" x2="338.3" y2="334.8" stroke="#111" stroke-width="1.55" />
<line x1="335.6" y1="332.1" x2="335.6" y2="337.5" stroke="#111" stroke-width="1.55" />
<line x1="332.9" y1="392.6" x2="338.3" y2="392.6" stroke="#2a2a2a" stroke-width="1.45" />
<line x1="353.4" y1="334.8" x2="358.8" y2="334.8" stroke="#111" stroke-width="1.55" />
<line x1="356.1" y1="332.1" x2="356.1" y2="337.5" stroke="#111" stroke-width="1.55" />
<line x1="353.4" y1="392.6" x2="358.8" y2="392.6" stroke="#2a2a2a" stroke-width="1.45" />
<circle cx="291.1" cy="345.1" r="4.1" fill="none" stroke="#0d0d0d" stroke-width="1.75"/>
<line x1="288.9" y1="345.1" x2="293.3" y2="345.1" stroke="#222" stroke-width="1.45" />
<circle cx="291.1" cy="379.5" r="4.1" fill="none" stroke="#0d0d0d" stroke-width="1.75"/>
<line x1="288.9" y1="379.5" x2="293.3" y2="379.5" stroke="#222" stroke-width="1.45" />
<line x1="291.1" y1="377.3" x2="291.1" y2="381.7" stroke="#222" stroke-width="1.45" />
<circle cx="306.5" cy="345.1" r="4.1" fill="none" stroke="#0d0d0d" stroke-width="1.75"/>
<line x1="304.3" y1="345.1" x2="308.7" y2="345.1" stroke="#222" stroke-width="1.45" />
<circle cx="306.5" cy="379.5" r="4.1" fill="none" stroke="#0d0d0d" stroke-width="1.75"/>
<line x1="304.3" y1="379.5" x2="308.7" y2="379.5" stroke="#222" stroke-width="1.45" />
<line x1="306.5" y1="377.3" x2="306.5" y2="381.7" stroke="#222" stroke-width="1.45" />
<circle cx="323.9" cy="345.1" r="4.1" fill="none" stroke="#0d0d0d" stroke-width="1.75"/>
<line x1="321.7" y1="345.1" x2="326.1" y2="345.1" stroke="#222" stroke-width="1.45" />
<circle cx="323.9" cy="379.5" r="4.1" fill="none" stroke="#0d0d0d" stroke-width="1.75"/>
<line x1="321.7" y1="379.5" x2="326.1" y2="379.5" stroke="#222" stroke-width="1.45" />
<line x1="323.9" y1="377.3" x2="323.9" y2="381.7" stroke="#222" stroke-width="1.45" />
<circle cx="340.2" cy="345.1" r="4.1" fill="none" stroke="#0d0d0d" stroke-width="1.75"/>
<line x1="338" y1="345.1" x2="342.4" y2="345.1" stroke="#222" stroke-width="1.45" />
<circle cx="340.2" cy="379.5" r="4.1" fill="none" stroke="#0d0d0d" stroke-width="1.75"/>
<line x1="338" y1="379.5" x2="342.4" y2="379.5" stroke="#222" stroke-width="1.45" />
<line x1="340.2" y1="377.3" x2="340.2" y2="381.7" stroke="#222" stroke-width="1.45" />
<circle cx="356.9" cy="345.1" r="4.1" fill="none" stroke="#0d0d0d" stroke-width="1.75"/>
<line x1="354.7" y1="345.1" x2="359.1" y2="345.1" stroke="#222" stroke-width="1.45" />
<circle cx="356.9" cy="379.5" r="4.1" fill="none" stroke="#0d0d0d" stroke-width="1.75"/>
<line x1="354.7" y1="379.5" x2="359.1" y2="379.5" stroke="#222" stroke-width="1.45" />
<line x1="356.9" y1="377.3" x2="356.9" y2="381.7" stroke="#222" stroke-width="1.45" />
<g transform="translate(297.2,362.3) rotate(-20)"><ellipse cx="0" cy="0" rx="4.5" ry="10.2" fill="url(#eg)"/><polyline points="-3.38,-9.18 -0.23,-1.02 -1.57,0.51 2.48,9.18" fill="none" stroke="#f6b70e" stroke-width="1.15"/><line x1="0.23" y1="-10.2" x2="-0.45" y2="10.2" stroke="#f6b70e" stroke-width="1.15"/></g>
<g transform="translate(318,362.3) rotate(-20)"><ellipse cx="0" cy="0" rx="4.5" ry="10.2" fill="url(#eg)"/><polyline points="-3.38,-9.18 -0.23,-1.02 -1.57,0.51 2.48,9.18" fill="none" stroke="#f6b70e" stroke-width="1.15"/><line x1="0.23" y1="-10.2" x2="-0.45" y2="10.2" stroke="#f6b70e" stroke-width="1.15"/></g>
<g transform="translate(339.7,362.3) rotate(6)"><ellipse cx="0" cy="0" rx="4.5" ry="10.2" fill="url(#eg)"/><polyline points="-3.38,-9.18 -0.23,-1.02 -1.57,0.51 2.48,9.18" fill="none" stroke="#f6b70e" stroke-width="1.15"/><line x1="0.23" y1="-10.2" x2="-0.45" y2="10.2" stroke="#f6b70e" stroke-width="1.15"/></g>
<g transform="translate(356.1,362.3) rotate(6)"><ellipse cx="0" cy="0" rx="4.5" ry="10.2" fill="url(#eg)"/><polyline points="-3.38,-9.18 -0.23,-1.02 -1.57,0.51 2.48,9.18" fill="none" stroke="#f6b70e" stroke-width="1.15"/><line x1="0.23" y1="-10.2" x2="-0.45" y2="10.2" stroke="#f6b70e" stroke-width="1.15"/></g>
<polyline points="363.8,333.6 394.5,333.6 394.5,390.9 363.8,390.9" fill="none" stroke="#111" stroke-width="1.4"/>
<text x="328.3" y="323.3" font-size="7.8" fill="#000" text-anchor="middle" font-weight="bold" >Releasing</text>
<text x="371.5" y="399.5" font-size="8.1" font-weight="bold" fill="#1a76d0"><tspan font-style="italic">I</tspan><tspan font-size="5.0" dy="2.3">piezo</tspan><tspan dy="-2.3"> &lt; 0</tspan></text>
<text x="371.5" y="409.8" font-size="8.1" font-weight="bold" fill="#1a76d0"><tspan font-style="italic">I</tspan><tspan font-size="5.0" dy="2.3">pyro</tspan><tspan dy="-2.3"> &gt; 0</tspan></text>
<rect x="431.5" y="328.4" width="78.1" height="69.3" fill="#dedfc3" />
<rect x="431.5" y="328.4" width="78.1" height="11.4" fill="#c3c3c3" />
<rect x="431.5" y="385.9" width="78.1" height="11.8" fill="#c3c3c3" />
<line x1="437.1" y1="335.6" x2="442.5" y2="335.6" stroke="#111" stroke-width="1.55" />
<line x1="439.8" y1="332.9" x2="439.8" y2="338.3" stroke="#111" stroke-width="1.55" />
<line x1="437.1" y1="393.4" x2="442.5" y2="393.4" stroke="#2a2a2a" stroke-width="1.45" />
<line x1="452.7" y1="335.6" x2="458.1" y2="335.6" stroke="#111" stroke-width="1.55" />
<line x1="455.4" y1="332.9" x2="455.4" y2="338.3" stroke="#111" stroke-width="1.55" />
<line x1="452.7" y1="393.4" x2="458.1" y2="393.4" stroke="#2a2a2a" stroke-width="1.45" />
<line x1="468.3" y1="335.6" x2="473.7" y2="335.6" stroke="#111" stroke-width="1.55" />
<line x1="471" y1="332.9" x2="471" y2="338.3" stroke="#111" stroke-width="1.55" />
<line x1="468.3" y1="393.4" x2="473.7" y2="393.4" stroke="#2a2a2a" stroke-width="1.45" />
<line x1="483.9" y1="335.6" x2="489.3" y2="335.6" stroke="#111" stroke-width="1.55" />
<line x1="486.6" y1="332.9" x2="486.6" y2="338.3" stroke="#111" stroke-width="1.55" />
<line x1="483.9" y1="393.4" x2="489.3" y2="393.4" stroke="#2a2a2a" stroke-width="1.45" />
<line x1="499.6" y1="335.6" x2="505" y2="335.6" stroke="#111" stroke-width="1.55" />
<line x1="502.3" y1="332.9" x2="502.3" y2="338.3" stroke="#111" stroke-width="1.55" />
<line x1="499.6" y1="393.4" x2="505" y2="393.4" stroke="#2a2a2a" stroke-width="1.45" />
<circle cx="438.8" cy="346.1" r="4.1" fill="none" stroke="#0d0d0d" stroke-width="1.75"/>
<line x1="436.6" y1="346.1" x2="441" y2="346.1" stroke="#222" stroke-width="1.45" />
<circle cx="438.8" cy="380.5" r="4.1" fill="none" stroke="#0d0d0d" stroke-width="1.75"/>
<line x1="436.6" y1="380.5" x2="441" y2="380.5" stroke="#222" stroke-width="1.45" />
<line x1="438.8" y1="378.3" x2="438.8" y2="382.7" stroke="#222" stroke-width="1.45" />
<circle cx="451.8" cy="346.1" r="4.1" fill="none" stroke="#0d0d0d" stroke-width="1.75"/>
<line x1="449.6" y1="346.1" x2="454" y2="346.1" stroke="#222" stroke-width="1.45" />
<circle cx="451.8" cy="380.5" r="4.1" fill="none" stroke="#0d0d0d" stroke-width="1.75"/>
<line x1="449.6" y1="380.5" x2="454" y2="380.5" stroke="#222" stroke-width="1.45" />
<line x1="451.8" y1="378.3" x2="451.8" y2="382.7" stroke="#222" stroke-width="1.45" />
<circle cx="464.3" cy="346.1" r="4.1" fill="none" stroke="#0d0d0d" stroke-width="1.75"/>
<line x1="462.1" y1="346.1" x2="466.5" y2="346.1" stroke="#222" stroke-width="1.45" />
<circle cx="464.3" cy="380.5" r="4.1" fill="none" stroke="#0d0d0d" stroke-width="1.75"/>
<line x1="462.1" y1="380.5" x2="466.5" y2="380.5" stroke="#222" stroke-width="1.45" />
<line x1="464.3" y1="378.3" x2="464.3" y2="382.7" stroke="#222" stroke-width="1.45" />
<circle cx="476.8" cy="346.1" r="4.1" fill="none" stroke="#0d0d0d" stroke-width="1.75"/>
<line x1="474.6" y1="346.1" x2="479" y2="346.1" stroke="#222" stroke-width="1.45" />
<circle cx="476.8" cy="380.5" r="4.1" fill="none" stroke="#0d0d0d" stroke-width="1.75"/>
<line x1="474.6" y1="380.5" x2="479" y2="380.5" stroke="#222" stroke-width="1.45" />
<line x1="476.8" y1="378.3" x2="476.8" y2="382.7" stroke="#222" stroke-width="1.45" />
<circle cx="489.8" cy="346.1" r="4.1" fill="none" stroke="#0d0d0d" stroke-width="1.75"/>
<line x1="487.6" y1="346.1" x2="492" y2="346.1" stroke="#222" stroke-width="1.45" />
<circle cx="489.8" cy="380.5" r="4.1" fill="none" stroke="#0d0d0d" stroke-width="1.75"/>
<line x1="487.6" y1="380.5" x2="492" y2="380.5" stroke="#222" stroke-width="1.45" />
<line x1="489.8" y1="378.3" x2="489.8" y2="382.7" stroke="#222" stroke-width="1.45" />
<circle cx="502.6" cy="346.1" r="4.1" fill="none" stroke="#0d0d0d" stroke-width="1.75"/>
<line x1="500.4" y1="346.1" x2="504.8" y2="346.1" stroke="#222" stroke-width="1.45" />
<circle cx="502.6" cy="380.5" r="4.1" fill="none" stroke="#0d0d0d" stroke-width="1.75"/>
<line x1="500.4" y1="380.5" x2="504.8" y2="380.5" stroke="#222" stroke-width="1.45" />
<line x1="502.6" y1="378.3" x2="502.6" y2="382.7" stroke="#222" stroke-width="1.45" />
<g transform="translate(441.6,362.5) rotate(-6)"><ellipse cx="0" cy="0" rx="4.5" ry="10.2" fill="url(#eg)"/><polyline points="-3.38,-9.18 -0.23,-1.02 -1.57,0.51 2.48,9.18" fill="none" stroke="#f6b70e" stroke-width="1.15"/><line x1="0.23" y1="-10.2" x2="-0.45" y2="10.2" stroke="#f6b70e" stroke-width="1.15"/></g>
<g transform="translate(461.2,362.5) rotate(-6)"><ellipse cx="0" cy="0" rx="4.5" ry="10.2" fill="url(#eg)"/><polyline points="-3.38,-9.18 -0.23,-1.02 -1.57,0.51 2.48,9.18" fill="none" stroke="#f6b70e" stroke-width="1.15"/><line x1="0.23" y1="-10.2" x2="-0.45" y2="10.2" stroke="#f6b70e" stroke-width="1.15"/></g>
<g transform="translate(480.7,362.5) rotate(-6)"><ellipse cx="0" cy="0" rx="4.5" ry="10.2" fill="url(#eg)"/><polyline points="-3.38,-9.18 -0.23,-1.02 -1.57,0.51 2.48,9.18" fill="none" stroke="#f6b70e" stroke-width="1.15"/><line x1="0.23" y1="-10.2" x2="-0.45" y2="10.2" stroke="#f6b70e" stroke-width="1.15"/></g>
<g transform="translate(501.3,362.5) rotate(-6)"><ellipse cx="0" cy="0" rx="4.5" ry="10.2" fill="url(#eg)"/><polyline points="-3.38,-9.18 -0.23,-1.02 -1.57,0.51 2.48,9.18" fill="none" stroke="#f6b70e" stroke-width="1.15"/><line x1="0.23" y1="-10.2" x2="-0.45" y2="10.2" stroke="#f6b70e" stroke-width="1.15"/></g>
<polyline points="509.6,334 540.4,334 540.4,389.5 509.6,389.5" fill="none" stroke="#111" stroke-width="1.4"/>
<text x="470.5" y="323.9" font-size="7.8" fill="#000" text-anchor="middle" font-weight="bold" >Contacting</text>
<text x="511.5" y="401" font-size="8.1" font-weight="bold" fill="#1a76d0"><tspan font-style="italic">I</tspan><tspan font-size="5.0" dy="2.3">piezo</tspan><tspan dy="-2.3"> &gt; 0</tspan></text>
<text x="511.5" y="410.9" font-size="8.1" font-weight="bold" fill="#1a76d0"><tspan font-style="italic">I</tspan><tspan font-size="5.0" dy="2.3">pyro</tspan><tspan dy="-2.3"> &lt; 0</tspan></text>
<path d="M405.69,312.3 A8.5,8.5 0 1 1 407.39,319.96" fill="none" stroke="#1a7ad6" stroke-width="1.6"/>
<polygon points="405.46,317.67 410.46,318.95 405.86,322.81" fill="#1a7ad6"/>
<line x1="276.9" y1="255.8" x2="276.9" y2="272.3" stroke="#5ecb3e" stroke-width="1.3" />
<polygon points="274.4,269.7 279.4,269.7 276.9,278.3" fill="#5ecb3e"/>
<text x="265.0" y="268.6" font-size="9" font-weight="bold" font-style="italic" fill="#72c98a">P<tspan font-size="6.2" dy="2.2" font-style="normal">s</tspan></text>
<rect x="351.6" y="415.1" width="17.5" height="4.8" fill="#bdbdbd" />
<text x="374.9" y="419.9" font-size="7.4" fill="#c6c6c6" text-anchor="start" font-weight="bold" >Ag electrode</text>
<rect x="434.6" y="415.1" width="17" height="4.8" fill="#d6d8b4" />
<text x="458.5" y="419.9" font-size="7.4" fill="#dfe0cc" text-anchor="start" font-weight="bold" >PMN-PT</text>
<polyline points="51.2,500.1 65.5,500.1 66,494 66.5,516 69.6,511.5 70.3,513.5 70.6,518 71.2,500.3 85,500.2" fill="none" stroke="#1a7fd4" stroke-width="1.3" stroke-linejoin="round" />
<polyline points="85,500.1 102.6,500.1 103.1,488 103.6,516 105.2,510 107.3,512 107.6,525.6 108.2,500.3 122,500.2" fill="none" stroke="#3cc0f0" stroke-width="1.3" stroke-linejoin="round" />
<polyline points="122,500.1 139.2,500.1 139.7,484.4 140.2,516 142,510 143.7,512 144,528.4 144.6,500.3 158,500.2" fill="none" stroke="#7cc37c" stroke-width="1.3" stroke-linejoin="round" />
<polyline points="158,500.1 176,500.1 176.5,476 177,515.6 178.6,510 180.3,512 180.6,539 181.2,500.3 195,500.2" fill="none" stroke="#a9c98b" stroke-width="1.3" stroke-linejoin="round" />
<polyline points="195,500.1 212.1,500.1 212.6,464.3 213.1,515.2 215,508.4 217,510.4 217.3,537.6 217.9,500.3 233,500.2" fill="none" stroke="#d3a866" stroke-width="1.3" stroke-linejoin="round" />
<polyline points="233,500.1 248.8,500.1 249.3,460.2 249.8,515.2 252.3,509.1 254,511.1 254.3,547.1 254.9,500.3 270.2,500.2" fill="none" stroke="#b9561c" stroke-width="1.3" stroke-linejoin="round" />
<line x1="51.2" y1="498.9" x2="270.2" y2="498.9" stroke="#555555" stroke-width="1" stroke-dasharray="1.6,1.3"/>
<rect x="51.2" y="431" width="219" height="138.3" fill="none" stroke="#3a3a3a" stroke-width="1.1"/>
<line x1="48.2" y1="431" x2="51.2" y2="431" stroke="#3a3a3a" stroke-width="1" />
<text x="46.7" y="433.9" font-size="8.8" fill="#000" text-anchor="end" font-weight="bold" >600</text>
<line x1="48.2" y1="465.57" x2="51.2" y2="465.57" stroke="#3a3a3a" stroke-width="1" />
<text x="46.7" y="468.47" font-size="8.8" fill="#000" text-anchor="end" font-weight="bold" >300</text>
<line x1="48.2" y1="500.15" x2="51.2" y2="500.15" stroke="#3a3a3a" stroke-width="1" />
<text x="46.7" y="503.05" font-size="8.8" fill="#000" text-anchor="end" font-weight="bold" >0</text>
<line x1="48.2" y1="534.72" x2="51.2" y2="534.72" stroke="#3a3a3a" stroke-width="1" />
<text x="46.7" y="537.62" font-size="8.8" fill="#000" text-anchor="end" font-weight="bold" >-300</text>
<line x1="48.2" y1="569.3" x2="51.2" y2="569.3" stroke="#3a3a3a" stroke-width="1" />
<text x="46.7" y="572.2" font-size="8.8" fill="#000" text-anchor="end" font-weight="bold" >-600</text>
<line x1="49.2" y1="448.29" x2="51.2" y2="448.29" stroke="#3a3a3a" stroke-width="0.9" />
<line x1="49.2" y1="482.86" x2="51.2" y2="482.86" stroke="#3a3a3a" stroke-width="0.9" />
<line x1="49.2" y1="517.44" x2="51.2" y2="517.44" stroke="#3a3a3a" stroke-width="0.9" />
<line x1="49.2" y1="552.01" x2="51.2" y2="552.01" stroke="#3a3a3a" stroke-width="0.9" />
<line x1="51.2" y1="569.3" x2="51.2" y2="572.3" stroke="#3a3a3a" stroke-width="1" />
<text x="51.2" y="580.5" font-size="8.8" fill="#000" text-anchor="middle" font-weight="bold" >0.0</text>
<line x1="95" y1="569.3" x2="95" y2="572.3" stroke="#3a3a3a" stroke-width="1" />
<text x="95" y="580.5" font-size="8.8" fill="#000" text-anchor="middle" font-weight="bold" >4.2</text>
<line x1="138.8" y1="569.3" x2="138.8" y2="572.3" stroke="#3a3a3a" stroke-width="1" />
<text x="138.8" y="580.5" font-size="8.8" fill="#000" text-anchor="middle" font-weight="bold" >8.4</text>
<line x1="182.6" y1="569.3" x2="182.6" y2="572.3" stroke="#3a3a3a" stroke-width="1" />
<text x="182.6" y="580.5" font-size="8.8" fill="#000" text-anchor="middle" font-weight="bold" >12.6</text>
<line x1="226.4" y1="569.3" x2="226.4" y2="572.3" stroke="#3a3a3a" stroke-width="1" />
<text x="226.4" y="580.5" font-size="8.8" fill="#000" text-anchor="middle" font-weight="bold" >16.8</text>
<line x1="270.2" y1="569.3" x2="270.2" y2="572.3" stroke="#3a3a3a" stroke-width="1" />
<text x="270.2" y="580.5" font-size="8.8" fill="#000" text-anchor="middle" font-weight="bold" >21.0</text>
<line x1="73.1" y1="569.3" x2="73.1" y2="571.3" stroke="#3a3a3a" stroke-width="0.9" />
<line x1="116.9" y1="569.3" x2="116.9" y2="571.3" stroke="#3a3a3a" stroke-width="0.9" />
<line x1="160.7" y1="569.3" x2="160.7" y2="571.3" stroke="#3a3a3a" stroke-width="0.9" />
<line x1="204.5" y1="569.3" x2="204.5" y2="571.3" stroke="#3a3a3a" stroke-width="0.9" />
<line x1="248.3" y1="569.3" x2="248.3" y2="571.3" stroke="#3a3a3a" stroke-width="0.9" />
<text x="0" y="0" font-size="11.4" font-weight="bold" text-anchor="middle" transform="translate(28.6,500) rotate(-90)">Current (nA)</text>
<text x="160.7" y="593" font-size="11.2" fill="#000" text-anchor="middle" font-weight="bold" >Time (s)</text>
<text x="18" y="449.5" font-size="22.2" fill="#000" text-anchor="start" font-weight="normal" >e</text>
<text x="69.4" y="444.5" font-size="7.4" fill="#1a7fd4" text-anchor="middle" font-weight="bold" >110.5</text>
<text x="105" y="444.5" font-size="7.4" fill="#3cc0f0" text-anchor="middle" font-weight="bold" >113.2</text>
<text x="143" y="444.5" font-size="7.4" fill="#7cc37c" text-anchor="middle" font-weight="bold" >117.6</text>
<text x="178" y="444.5" font-size="7.4" fill="#a9c98b" text-anchor="middle" font-weight="bold" >120.2</text>
<text x="216" y="444.5" font-size="7.4" fill="#d3a866" text-anchor="middle" font-weight="bold" >122.5</text>
<text x="251" y="444.5" font-size="7.4" fill="#b9561c" text-anchor="middle" font-weight="bold" >125.6</text>
<text x="69" y="453.8" font-size="7.4" fill="#1a7fd4" text-anchor="middle" font-weight="bold" >(kPa)</text>
<line x1="187.7" y1="465.4" x2="212.5" y2="465.4" stroke="#f59a55" stroke-width="1.2" stroke-dasharray="1.3,1.3"/>
<line x1="198.4" y1="467.4" x2="198.4" y2="495" stroke="#f59a55" stroke-width="1.2" stroke-dasharray="1.3,1.3"/>
<polyline points="196.4,468.6 198.4,466 200.4,468.6" fill="none" stroke="#f59a55" stroke-width="1.1"/>
<polyline points="196.4,493.8 198.4,496.4 200.4,493.8" fill="none" stroke="#f59a55" stroke-width="1.1"/>
<text x="189.6" y="484.9" font-size="8.5" font-style="italic" fill="#f59a55" opacity="0.75">I<tspan font-size="4.68" dy="1.2">1</tspan></text>
<line x1="193.1" y1="515.2" x2="212.2" y2="515.2" stroke="#2fbf4f" stroke-width="1.2" stroke-dasharray="1.3,1.3"/>
<line x1="205.5" y1="501.7" x2="205.5" y2="513.2" stroke="#2fbf4f" stroke-width="1.2" stroke-dasharray="1.3,1.3"/>
<polyline points="203.5,502.9 205.5,500.3 207.5,502.9" fill="none" stroke="#2fbf4f" stroke-width="1.1"/>
<polyline points="203.5,512 205.5,514.6 207.5,512" fill="none" stroke="#2fbf4f" stroke-width="1.1"/>
<text x="194" y="511.5" font-size="9" font-style="italic" fill="#2fbf4f" opacity="1">I<tspan font-size="4.95" dy="1.2">2</tspan></text>
<polyline points="318.4,535.6 318.2,535.6 326.2,535.1 331.2,534.4 333.2,533.4 334,532.1 334.2,512.2 334.6,515.4 338.5,519.5 339.8,536.3 340.4,536.4 352,536.4" fill="none" stroke="#1a7fd4" stroke-width="1.35" stroke-linejoin="round" />
<polyline points="352,536.4 354.9,535.6 362.9,535.1 367.9,534.4 369.9,533.4 370.7,532.1 370.9,500.9 371.2,515 372.1,517.5 373.9,519.5 374.2,520 375.3,538.5 375.7,536.6 390,536.4" fill="none" stroke="#3cc0f0" stroke-width="1.35" stroke-linejoin="round" />
<polyline points="390,536.4 391.7,535.6 399.7,535.1 404.7,534.4 406.7,533.4 407.5,532.1 407.7,493.3 408,515 408.9,517.5 410.7,520 411,520.5 411.5,541.3 411.9,536.6 425,536.4" fill="none" stroke="#7cc37c" stroke-width="1.35" stroke-linejoin="round" />
<polyline points="425,536.4 428.2,535.6 436.2,535.1 441.2,534.4 443.2,533.4 444,532.1 444.2,484.1 444.5,515 445.4,517.5 447.5,519 447.8,519.5 448.5,548.6 448.9,536.6 462,536.4" fill="none" stroke="#a9c98b" stroke-width="1.35" stroke-linejoin="round" />
<polyline points="462,536.4 464.9,535.6 472.9,535.1 477.9,534.4 479.9,533.4 480.7,532.1 480.9,466.5 481.2,515 482.1,517.5 483.9,520.9 484.2,521.4 485.5,550.5 485.9,536.6 500,536.4" fill="none" stroke="#d3a866" stroke-width="1.35" stroke-linejoin="round" />
<polyline points="500,536.4 502.2,535.6 510.2,535.1 515.2,534.4 517.2,533.4 518,532.1 518.2,453.2 518.5,515 519.4,517.5 521.5,520.9 521.8,521.4 523.1,555 523.5,536.6 538.9,536.4" fill="none" stroke="#b9561c" stroke-width="1.35" stroke-linejoin="round" />
<line x1="318.4" y1="536.7" x2="538.9" y2="536.7" stroke="#333333" stroke-width="1" stroke-dasharray="1.3,1.5"/>
<rect x="318.4" y="431" width="220.5" height="139.1" fill="none" stroke="#3a3a3a" stroke-width="1.1"/>
<line x1="315.4" y1="431" x2="318.4" y2="431" stroke="#3a3a3a" stroke-width="1" />
<text x="313.4" y="433.9" font-size="8.8" fill="#000" text-anchor="end" font-weight="bold" >1200</text>
<line x1="315.4" y1="465.77" x2="318.4" y2="465.77" stroke="#3a3a3a" stroke-width="1" />
<text x="313.4" y="468.67" font-size="8.8" fill="#000" text-anchor="end" font-weight="bold" >800</text>
<line x1="315.4" y1="500.55" x2="318.4" y2="500.55" stroke="#3a3a3a" stroke-width="1" />
<text x="313.4" y="503.45" font-size="8.8" fill="#000" text-anchor="end" font-weight="bold" >400</text>
<line x1="315.4" y1="535.33" x2="318.4" y2="535.33" stroke="#3a3a3a" stroke-width="1" />
<text x="313.4" y="538.23" font-size="8.8" fill="#000" text-anchor="end" font-weight="bold" >0</text>
<line x1="315.4" y1="570.1" x2="318.4" y2="570.1" stroke="#3a3a3a" stroke-width="1" />
<text x="313.4" y="573" font-size="8.8" fill="#000" text-anchor="end" font-weight="bold" >-400</text>
<line x1="316.4" y1="448.39" x2="318.4" y2="448.39" stroke="#3a3a3a" stroke-width="0.9" />
<line x1="316.4" y1="483.16" x2="318.4" y2="483.16" stroke="#3a3a3a" stroke-width="0.9" />
<line x1="316.4" y1="517.94" x2="318.4" y2="517.94" stroke="#3a3a3a" stroke-width="0.9" />
<line x1="316.4" y1="552.71" x2="318.4" y2="552.71" stroke="#3a3a3a" stroke-width="0.9" />
<line x1="318.4" y1="570.1" x2="318.4" y2="573.1" stroke="#3a3a3a" stroke-width="1" />
<text x="318.4" y="581.3" font-size="8.8" fill="#000" text-anchor="middle" font-weight="bold" >0.0</text>
<line x1="362.5" y1="570.1" x2="362.5" y2="573.1" stroke="#3a3a3a" stroke-width="1" />
<text x="362.5" y="581.3" font-size="8.8" fill="#000" text-anchor="middle" font-weight="bold" >4.2</text>
<line x1="406.6" y1="570.1" x2="406.6" y2="573.1" stroke="#3a3a3a" stroke-width="1" />
<text x="406.6" y="581.3" font-size="8.8" fill="#000" text-anchor="middle" font-weight="bold" >8.4</text>
<line x1="450.7" y1="570.1" x2="450.7" y2="573.1" stroke="#3a3a3a" stroke-width="1" />
<text x="450.7" y="581.3" font-size="8.8" fill="#000" text-anchor="middle" font-weight="bold" >12.6</text>
<line x1="494.8" y1="570.1" x2="494.8" y2="573.1" stroke="#3a3a3a" stroke-width="1" />
<text x="494.8" y="581.3" font-size="8.8" fill="#000" text-anchor="middle" font-weight="bold" >16.8</text>
<line x1="538.9" y1="570.1" x2="538.9" y2="573.1" stroke="#3a3a3a" stroke-width="1" />
<text x="538.9" y="581.3" font-size="8.8" fill="#000" text-anchor="middle" font-weight="bold" >21.0</text>
<line x1="340.45" y1="570.1" x2="340.45" y2="572.1" stroke="#3a3a3a" stroke-width="0.9" />
<line x1="384.55" y1="570.1" x2="384.55" y2="572.1" stroke="#3a3a3a" stroke-width="0.9" />
<line x1="428.65" y1="570.1" x2="428.65" y2="572.1" stroke="#3a3a3a" stroke-width="0.9" />
<line x1="472.75" y1="570.1" x2="472.75" y2="572.1" stroke="#3a3a3a" stroke-width="0.9" />
<line x1="516.85" y1="570.1" x2="516.85" y2="572.1" stroke="#3a3a3a" stroke-width="0.9" />
<text x="0" y="0" font-size="11.4" font-weight="bold" text-anchor="middle" transform="translate(295.2,500.5) rotate(-90)">Current (nA)</text>
<text x="430.9" y="593" font-size="11.2" fill="#000" text-anchor="middle" font-weight="bold" >Time (s)</text>
<text x="283.5" y="449" font-size="21.5" fill="#000" text-anchor="start" font-weight="normal" >f</text>
<text x="334.4" y="444.2" font-size="7.4" fill="#1a7fd4" text-anchor="middle" font-weight="bold" >110.5</text>
<text x="370" y="444.2" font-size="7.4" fill="#3cc0f0" text-anchor="middle" font-weight="bold" >113.2</text>
<text x="406" y="444.2" font-size="7.4" fill="#7cc37c" text-anchor="middle" font-weight="bold" >117.6</text>
<text x="443.2" y="444.2" font-size="7.4" fill="#a9c98b" text-anchor="middle" font-weight="bold" >120.2</text>
<text x="481" y="444.2" font-size="7.4" fill="#d3a866" text-anchor="middle" font-weight="bold" >122.5</text>
<text x="516.5" y="444.2" font-size="7.4" fill="#b9561c" text-anchor="middle" font-weight="bold" >125.6</text>
<text x="334" y="453.6" font-size="7.4" fill="#1a7fd4" text-anchor="middle" font-weight="bold" >(kPa)</text>
<line x1="455" y1="466.8" x2="481.4" y2="466.8" stroke="#f59a55" stroke-width="1.2" stroke-dasharray="1.3,1.3"/>
<line x1="469.8" y1="469.5" x2="469.8" y2="533.9" stroke="#f59a55" stroke-width="1.2" stroke-dasharray="1.3,1.3"/>
<polyline points="467.8,470.7 469.8,468.1 471.8,470.7" fill="none" stroke="#f59a55" stroke-width="1.1"/>
<polyline points="467.8,532.7 469.8,535.3 471.8,532.7" fill="none" stroke="#f59a55" stroke-width="1.1"/>
<text x="460.3" y="501.6" font-size="9" font-style="italic" fill="#f59a55" opacity="0.85">I<tspan font-size="4.95" dy="1.2">1</tspan></text>
<line x1="481.5" y1="515" x2="498.4" y2="515" stroke="#2fbf4f" stroke-width="1.2" stroke-dasharray="1.3,1.3"/>
<line x1="490.9" y1="517.5" x2="490.9" y2="533.9" stroke="#2fbf4f" stroke-width="1.2" stroke-dasharray="1.3,1.3"/>
<polyline points="488.9,518.7 490.9,516.1 492.9,518.7" fill="none" stroke="#2fbf4f" stroke-width="1.1"/>
<polyline points="488.9,532.7 490.9,535.3 492.9,532.7" fill="none" stroke="#2fbf4f" stroke-width="1.1"/>
<text x="496" y="528.6" font-size="9" font-style="italic" fill="#2fbf4f" opacity="1">I<tspan font-size="4.95" dy="1.2">2</tspan></text>
<defs><radialGradient id="go" cx="50%" cy="50%" r="50%" fx="62%" fy="32%"><stop offset="0" stop-color="#ffffff"/><stop offset="0.25" stop-color="#fbcf9f"/><stop offset="0.6" stop-color="#f5a45a"/><stop offset="1" stop-color="#ec8e3e"/></radialGradient><radialGradient id="gt" cx="50%" cy="50%" r="50%" fx="62%" fy="32%"><stop offset="0" stop-color="#ffffff"/><stop offset="0.25" stop-color="#8fdcd2"/><stop offset="0.6" stop-color="#25b3a1"/><stop offset="1" stop-color="#159a8a"/></radialGradient><radialGradient id="gg" cx="50%" cy="50%" r="50%" fx="62%" fy="32%"><stop offset="0" stop-color="#ffffff"/><stop offset="0.25" stop-color="#b5e3b5"/><stop offset="0.6" stop-color="#62bf62"/><stop offset="1" stop-color="#46a846"/></radialGradient></defs>
<line x1="77.4" y1="686" x2="231.5" y2="627" stroke="#f6ae74" stroke-width="0.9" />
<line x1="77.4" y1="702.8" x2="231.5" y2="676.8" stroke="#2db5a5" stroke-width="0.9" stroke-dasharray="1.2,0.9"/>
<circle cx="77.4" cy="684.4" r="3.6" fill="url(#go)"/>
<circle cx="113" cy="674" r="3.6" fill="url(#go)"/>
<circle cx="134.4" cy="666" r="3.6" fill="url(#go)"/>
<circle cx="156" cy="657.6" r="3.6" fill="url(#go)"/>
<circle cx="198.7" cy="639.7" r="3.6" fill="url(#go)"/>
<circle cx="231.5" cy="627.6" r="3.6" fill="url(#go)"/>
<circle cx="77.4" cy="702" r="3.6" fill="url(#gt)"/>
<circle cx="113" cy="697.6" r="3.6" fill="url(#gt)"/>
<circle cx="134.4" cy="695.6" r="3.6" fill="url(#gt)"/>
<circle cx="156" cy="689.4" r="3.6" fill="url(#gt)"/>
<circle cx="198.7" cy="680.5" r="3.6" fill="url(#gt)"/>
<circle cx="231.5" cy="678.5" r="3.6" fill="url(#gt)"/>
<rect x="49.8" y="605.6" width="220.7" height="135" fill="none" stroke="#3a3a3a" stroke-width="1.1"/>
<line x1="46.8" y1="605.6" x2="49.8" y2="605.6" stroke="#3a3a3a" stroke-width="1" />
<text x="46.2" y="608.5" font-size="8.8" fill="#000" text-anchor="end" font-weight="bold" >1200</text>
<line x1="46.8" y1="639.35" x2="49.8" y2="639.35" stroke="#3a3a3a" stroke-width="1" />
<text x="46.2" y="642.25" font-size="8.8" fill="#000" text-anchor="end" font-weight="bold" >800</text>
<line x1="46.8" y1="673.1" x2="49.8" y2="673.1" stroke="#3a3a3a" stroke-width="1" />
<text x="46.2" y="676" font-size="8.8" fill="#000" text-anchor="end" font-weight="bold" >400</text>
<line x1="46.8" y1="706.85" x2="49.8" y2="706.85" stroke="#3a3a3a" stroke-width="1" />
<text x="46.2" y="709.75" font-size="8.8" fill="#000" text-anchor="end" font-weight="bold" >0</text>
<line x1="46.8" y1="740.6" x2="49.8" y2="740.6" stroke="#3a3a3a" stroke-width="1" />
<text x="46.2" y="743.5" font-size="8.8" fill="#000" text-anchor="end" font-weight="bold" >-400</text>
<line x1="47.8" y1="622.48" x2="49.8" y2="622.48" stroke="#3a3a3a" stroke-width="0.9" />
<line x1="47.8" y1="656.23" x2="49.8" y2="656.23" stroke="#3a3a3a" stroke-width="0.9" />
<line x1="47.8" y1="689.98" x2="49.8" y2="689.98" stroke="#3a3a3a" stroke-width="0.9" />
<line x1="47.8" y1="723.73" x2="49.8" y2="723.73" stroke="#3a3a3a" stroke-width="0.9" />
<line x1="49.8" y1="740.6" x2="49.8" y2="743.6" stroke="#3a3a3a" stroke-width="1" />
<text x="49.8" y="752.2" font-size="8.8" fill="#000" text-anchor="middle" font-weight="bold" >108</text>
<line x1="93.94" y1="740.6" x2="93.94" y2="743.6" stroke="#3a3a3a" stroke-width="1" />
<text x="93.94" y="752.2" font-size="8.8" fill="#000" text-anchor="middle" font-weight="bold" >112</text>
<line x1="138.08" y1="740.6" x2="138.08" y2="743.6" stroke="#3a3a3a" stroke-width="1" />
<text x="138.08" y="752.2" font-size="8.8" fill="#000" text-anchor="middle" font-weight="bold" >116</text>
<line x1="182.22" y1="740.6" x2="182.22" y2="743.6" stroke="#3a3a3a" stroke-width="1" />
<text x="182.22" y="752.2" font-size="8.8" fill="#000" text-anchor="middle" font-weight="bold" >120</text>
<line x1="226.36" y1="740.6" x2="226.36" y2="743.6" stroke="#3a3a3a" stroke-width="1" />
<text x="226.36" y="752.2" font-size="8.8" fill="#000" text-anchor="middle" font-weight="bold" >124</text>
<line x1="270.5" y1="740.6" x2="270.5" y2="743.6" stroke="#3a3a3a" stroke-width="1" />
<text x="270.5" y="752.2" font-size="8.8" fill="#000" text-anchor="middle" font-weight="bold" >128</text>
<line x1="71.87" y1="740.6" x2="71.87" y2="742.6" stroke="#3a3a3a" stroke-width="0.9" />
<line x1="116.01" y1="740.6" x2="116.01" y2="742.6" stroke="#3a3a3a" stroke-width="0.9" />
<line x1="160.15" y1="740.6" x2="160.15" y2="742.6" stroke="#3a3a3a" stroke-width="0.9" />
<line x1="204.29" y1="740.6" x2="204.29" y2="742.6" stroke="#3a3a3a" stroke-width="0.9" />
<line x1="248.43" y1="740.6" x2="248.43" y2="742.6" stroke="#3a3a3a" stroke-width="0.9" />
<text x="0" y="0" font-size="11.4" font-weight="bold" text-anchor="middle" transform="translate(22.6,673) rotate(-90)">Current (nA)</text>
<text x="159.3" y="764.4" font-size="11.2" fill="#000" text-anchor="middle" font-weight="bold" >Pressure (kPa)</text>
<text x="13.3" y="621" font-size="20" fill="#000" text-anchor="start" font-weight="normal" >g</text>
<circle cx="62.4" cy="618" r="2.9" fill="url(#go)"/><circle cx="62.4" cy="629" r="2.9" fill="url(#gt)"/>
<text x="69" y="620.4" font-size="8.3" font-weight="bold" fill="#f39c52">δ<tspan font-style="italic">T</tspan> = 25.8 °C</text>
<text x="69" y="631.6" font-size="8.3" font-weight="bold" fill="#1fae9e">δ<tspan font-style="italic">T</tspan> = −7.51 °C</text>
<text x="211.8" y="658.6" font-size="8.0" font-weight="bold" fill="#f39c52" text-anchor="middle"><tspan font-style="italic">k</tspan> = 48.83 nA kPa<tspan font-size="4.6" dy="-3">−1</tspan></text>
<text x="211.8" y="670.1" font-size="7.9" fill="#858585" text-anchor="middle" font-weight="bold" >(R² = 0.996)</text>
<text x="211.8" y="699.4" font-size="8.0" font-weight="bold" fill="#1fae9e" text-anchor="middle"><tspan font-style="italic">k</tspan> = 22.22 nA kPa<tspan font-size="4.6" dy="-3">−1</tspan></text>
<text x="211.8" y="710.9" font-size="7.9" fill="#858585" text-anchor="middle" font-weight="bold" >(R² = 0.981)</text>
<line x1="331.7" y1="730.8" x2="515.7" y2="630.2" stroke="#8fd08f" stroke-width="1" stroke-dasharray="2.5,0.7"/>
<circle cx="331.7" cy="729.4" r="3.6" fill="url(#gg)"/>
<circle cx="369.6" cy="712.5" r="3.6" fill="url(#gg)"/>
<circle cx="414.2" cy="689.6" r="3.6" fill="url(#gg)"/>
<circle cx="456.6" cy="668.8" r="3.6" fill="url(#gg)"/>
<circle cx="482.6" cy="651.7" r="3.6" fill="url(#gg)"/>
<circle cx="515.7" cy="630.9" r="3.6" fill="url(#gg)"/>
<rect x="317.8" y="605.4" width="222.3" height="136.3" fill="none" stroke="#3a3a3a" stroke-width="1.1"/>
<line x1="314.8" y1="605.4" x2="317.8" y2="605.4" stroke="#3a3a3a" stroke-width="1" />
<text x="313.8" y="608.3" font-size="8.8" fill="#000" text-anchor="end" font-weight="bold" >600</text>
<line x1="314.8" y1="639.48" x2="317.8" y2="639.48" stroke="#3a3a3a" stroke-width="1" />
<text x="313.8" y="642.38" font-size="8.8" fill="#000" text-anchor="end" font-weight="bold" >400</text>
<line x1="314.8" y1="673.55" x2="317.8" y2="673.55" stroke="#3a3a3a" stroke-width="1" />
<text x="313.8" y="676.45" font-size="8.8" fill="#000" text-anchor="end" font-weight="bold" >200</text>
<line x1="314.8" y1="707.62" x2="317.8" y2="707.62" stroke="#3a3a3a" stroke-width="1" />
<text x="313.8" y="710.52" font-size="8.8" fill="#000" text-anchor="end" font-weight="bold" >0</text>
<line x1="314.8" y1="741.7" x2="317.8" y2="741.7" stroke="#3a3a3a" stroke-width="1" />
<text x="313.8" y="744.6" font-size="8.8" fill="#000" text-anchor="end" font-weight="bold" >-200</text>
<line x1="315.8" y1="622.44" x2="317.8" y2="622.44" stroke="#3a3a3a" stroke-width="0.9" />
<line x1="315.8" y1="656.51" x2="317.8" y2="656.51" stroke="#3a3a3a" stroke-width="0.9" />
<line x1="315.8" y1="690.59" x2="317.8" y2="690.59" stroke="#3a3a3a" stroke-width="0.9" />
<line x1="315.8" y1="724.66" x2="317.8" y2="724.66" stroke="#3a3a3a" stroke-width="0.9" />
<line x1="317.8" y1="741.7" x2="317.8" y2="744.7" stroke="#3a3a3a" stroke-width="1" />
<text x="317.8" y="753.3" font-size="8.8" fill="#000" text-anchor="middle" font-weight="bold" >-10</text>
<line x1="373.38" y1="741.7" x2="373.38" y2="744.7" stroke="#3a3a3a" stroke-width="1" />
<text x="373.38" y="753.3" font-size="8.8" fill="#000" text-anchor="middle" font-weight="bold" >0</text>
<line x1="428.95" y1="741.7" x2="428.95" y2="744.7" stroke="#3a3a3a" stroke-width="1" />
<text x="428.95" y="753.3" font-size="8.8" fill="#000" text-anchor="middle" font-weight="bold" >10</text>
<line x1="484.52" y1="741.7" x2="484.52" y2="744.7" stroke="#3a3a3a" stroke-width="1" />
<text x="484.52" y="753.3" font-size="8.8" fill="#000" text-anchor="middle" font-weight="bold" >20</text>
<line x1="540.1" y1="741.7" x2="540.1" y2="744.7" stroke="#3a3a3a" stroke-width="1" />
<text x="540.1" y="753.3" font-size="8.8" fill="#000" text-anchor="middle" font-weight="bold" >30</text>
<line x1="345.59" y1="741.7" x2="345.59" y2="743.7" stroke="#3a3a3a" stroke-width="0.9" />
<line x1="401.16" y1="741.7" x2="401.16" y2="743.7" stroke="#3a3a3a" stroke-width="0.9" />
<line x1="456.74" y1="741.7" x2="456.74" y2="743.7" stroke="#3a3a3a" stroke-width="0.9" />
<line x1="512.31" y1="741.7" x2="512.31" y2="743.7" stroke="#3a3a3a" stroke-width="0.9" />
<text x="0" y="0" font-size="11.4" font-weight="bold" text-anchor="middle" transform="translate(292.6,673.3) rotate(-90)">Current (nA)</text>
<text x="428.8" y="765.5" font-size="11.4" font-weight="bold" text-anchor="middle">δ<tspan font-style="italic">T</tspan> (°C)</text>
<text x="283.2" y="621" font-size="21.5" fill="#000" text-anchor="start" font-weight="normal" >h</text>
<text x="477.4" y="686" font-size="8.0" font-weight="bold" fill="#5fbf5f" text-anchor="middle"><tspan font-style="italic">k</tspan> = 17.75 nA °C<tspan font-size="4.6" dy="-3">−1</tspan></text>
<text x="477.6" y="697.1" font-size="7.9" fill="#858585" text-anchor="middle" font-weight="bold" >(R² = 0.995)</text>
</svg></body></html>
